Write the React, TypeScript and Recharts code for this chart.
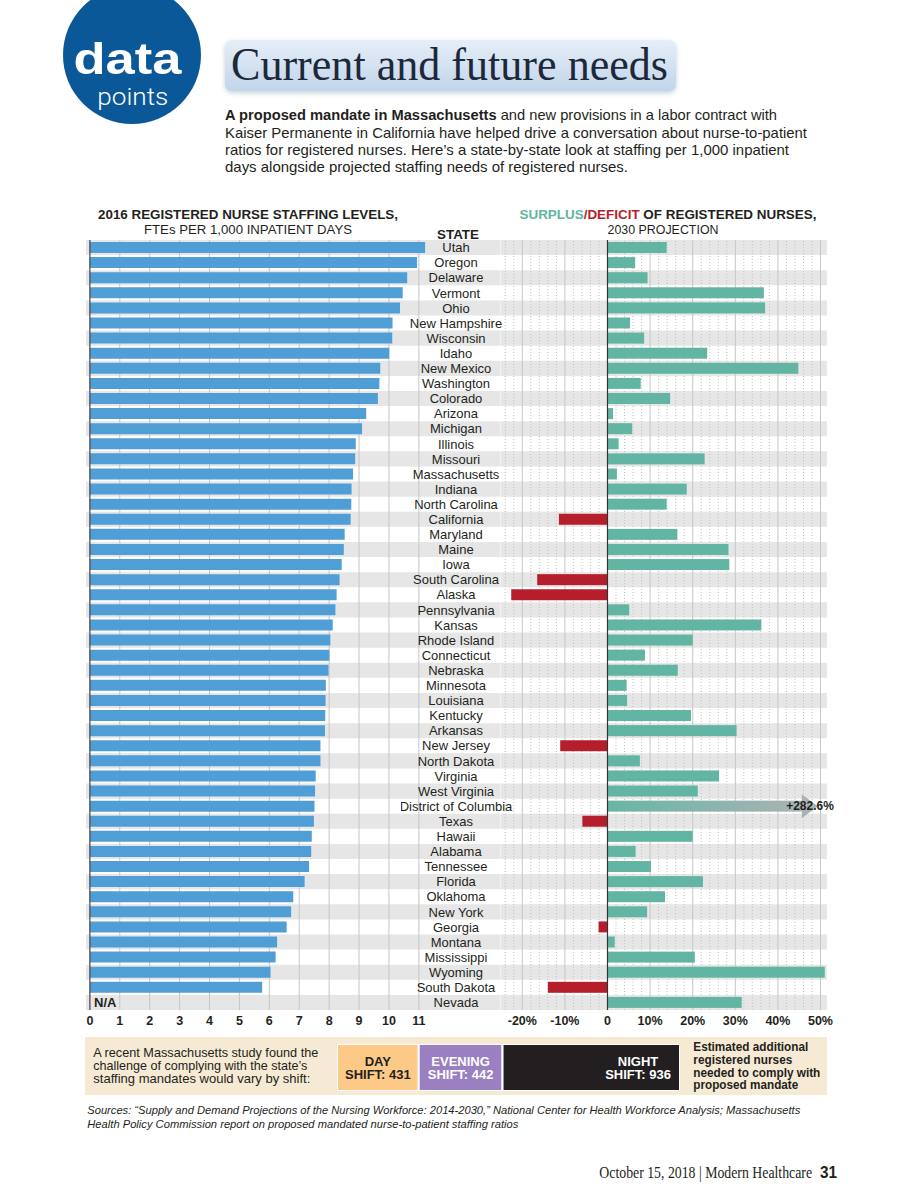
import React from 'react';
import { BarChart, Bar, XAxis, YAxis, ReferenceArea, ReferenceLine, LabelList } from 'recharts';

const FONT = "'Liberation Sans', Arial, Helvetica, sans-serif";
const SERIF = "'Liberation Serif', 'DejaVu Serif', serif";
const INK = '#231f20';
const BLUE = '#509ed6';
const TEAL = '#62b5a2';
const RED = '#b51f2b';
const STRIPE = '#e6e6e6';
const GRID = '#c6c6c6';

const states = [
  'Utah', 'Oregon', 'Delaware', 'Vermont', 'Ohio', 'New Hampshire', 'Wisconsin', 'Idaho', 'New Mexico', 'Washington',
  'Colorado', 'Arizona', 'Michigan', 'Illinois', 'Missouri', 'Massachusetts', 'Indiana', 'North Carolina', 'California', 'Maryland',
  'Maine', 'Iowa', 'South Carolina', 'Alaska', 'Pennsylvania', 'Kansas', 'Rhode Island', 'Connecticut', 'Nebraska', 'Minnesota',
  'Louisiana', 'Kentucky', 'Arkansas', 'New Jersey', 'North Dakota', 'Virginia', 'West Virginia', 'District of Columbia', 'Texas', 'Hawaii',
  'Alabama', 'Tennessee', 'Florida', 'Oklahoma', 'New York', 'Georgia', 'Montana', 'Mississippi', 'Wyoming', 'South Dakota',
  'Nevada',
];

// 2016 RN FTEs per 1,000 inpatient days (Nevada: N/A)
const staffing: (number | null)[] = [
  11.21, 10.94, 10.61, 10.46, 10.37, 10.12, 10.11, 10.01, 9.71, 9.68,
  9.63, 9.24, 9.10, 8.89, 8.87, 8.80, 8.75, 8.74, 8.72, 8.52,
  8.49, 8.42, 8.35, 8.25, 8.21, 8.12, 8.04, 8.01, 7.98, 7.89,
  7.88, 7.87, 7.86, 7.71, 7.71, 7.55, 7.53, 7.51, 7.49, 7.42,
  7.40, 7.33, 7.18, 6.80, 6.73, 6.58, 6.26, 6.21, 6.04, 5.76,
  null,
];

// 2030 projected surplus/deficit, %
const surplus = [
  13.9, 6.5, 9.4, 36.7, 37.0, 5.3, 8.6, 23.4, 44.8, 7.8,
  14.7, 1.3, 5.8, 2.6, 22.8, 2.2, 18.6, 13.9, -11.4, 16.4,
  28.4, 28.6, -16.5, -22.6, 5.1, 36.1, 20.0, 8.8, 16.5, 4.5,
  4.6, 19.6, 30.3, -11.1, 7.6, 26.2, 21.2, 282.6, -5.9, 20.0,
  6.6, 10.2, 22.4, 13.5, 9.3, -2.1, 1.7, 20.5, 51.0, -14.0,
  31.5,
];

const leftTicks = [0, 1, 2, 3, 4, 5, 6, 7, 8, 9, 10, 11];
const rightMajorTicks = [-20, -10, 0, 10, 20, 30, 40, 50];
const rightMinorTicks = [-24, -22, -18, -16, -14, -12, -8, -6, -4, -2, 2, 4, 6, 8, 12, 14, 16, 18, 22, 24, 26, 28, 32, 34, 36, 38, 42, 44, 46, 48];
const LEFT_DOMAIN: [number, number] = [-0.13, 13.73];
const RIGHT_DOMAIN: [number, number] = [-25, 55];
const RIGHT_STRIPE_END = 51.5;

const shiftNames = ['DAY', 'EVENING', 'NIGHT'];
const shiftValues = [431, 442, 936];
const shiftColors = ['#fcc986', '#9a80c1', '#231f20'];
const shiftText = [INK, '#ffffff', '#ffffff'];

const rows = states.map((s, i) => ({ state: s, staffing: staffing[i], surplus: surplus[i] }));
const stripeStates = states.filter((_, i) => i % 2 === 0);
const shiftRow: Record<string, any> = { name: 'Massachusetts' };
shiftNames.forEach((n, i) => { shiftRow[n] = shiftValues[i]; });
const shiftTotal = shiftValues.reduce((a, b) => a + b, 0);

const tickStyle = { fontSize: 12.5, fontWeight: 700, fill: INK, fontFamily: FONT };

function StateTick(props: any) {
  const { x, y, payload } = props;
  return (
    <text x={x - 45} y={y} dy="0.36em" textAnchor="middle" fontSize={13} fill={INK} fontFamily={FONT}>
      {payload.value}
    </text>
  );
}

function SurplusShape(props: any) {
  const { x, y, width, height, payload, background } = props;
  const v = payload ? payload.surplus : 0;
  const left = width < 0 ? x + width : x;
  const w = Math.abs(width);
  if (v > RIGHT_DOMAIN[1]) {
    const plotRight = background ? background.x + background.width : x + 234;
    const tip = plotRight - 24;
    const base = tip - 16;
    const cy = y + height / 2;
    return (
      <g>
        <defs>
          <linearGradient id="dcGrad" x1="0" x2="1" y1="0" y2="0">
            <stop offset="0" stopColor="#68b6a5" />
            <stop offset="1" stopColor="#a9b3b3" />
          </linearGradient>
        </defs>
        <rect x={x} y={y} width={base - x} height={height} fill="url(#dcGrad)" />
        <polygon points={`${base},${cy - 12} ${tip},${cy} ${base},${cy + 12}`} fill="#a9b3b3" />
        <text x={plotRight - 8} y={cy} dy="0.36em" textAnchor="end" fontWeight={700} fontSize={12} fill={INK} fontFamily={FONT}>
          {'+' + v.toFixed(1) + '%'}
        </text>
      </g>
    );
  }
  return <rect x={left} y={y} width={w} height={height} fill={v < 0 ? RED : TEAL} />;
}

function makeShiftLabel(i: number) {
  return (props: any) => {
    const { x, y, width, height } = props;
    const cx = i === 2 ? x + width - 42 : x + width / 2;
    const cy = y + height / 2;
    return (
      <g>
        <text x={cx} y={cy - 6.5} dy="0.36em" textAnchor="middle" fontSize={13} fontWeight={700} fill={shiftText[i]} fontFamily={FONT}>
          {shiftNames[i]}
        </text>
        <text x={cx} y={cy + 6.5} dy="0.36em" textAnchor="middle" fontSize={13} fontWeight={700} fill={shiftText[i]} fontFamily={FONT}>
          {'SHIFT: ' + shiftValues[i]}
        </text>
      </g>
    );
  };
}

function Page() {
  return (
    <svg width={900} height={1200} style={{ position: 'absolute', left: 0, top: 0 }}>
      <defs>
        <linearGradient id="titleGrad" x1="0" y1="0" x2="0" y2="1">
          <stop offset="0" stopColor="#e6eef8" />
          <stop offset="1" stopColor="#c2d5ea" />
        </linearGradient>
        <filter id="titleShadow" x="-5%" y="-20%" width="110%" height="160%">
          <feDropShadow dx="0" dy="2" stdDeviation="2.5" floodColor="#7d98b6" floodOpacity="0.45" />
        </filter>
      </defs>
      <circle cx={132} cy={55} r={69} fill="#0b5898" />
      <text x={127.5} y={74} textAnchor="middle" fontFamily={FONT} fontWeight={700} fontSize={44} fill="#ffffff" textLength={108} lengthAdjust="spacingAndGlyphs">data</text>
      <text x={132.8} y={105} textAnchor="middle" fontFamily="Roboto, 'Liberation Sans', sans-serif" fontWeight={300} fontSize={24} fill="#ffffff" textLength={71} lengthAdjust="spacingAndGlyphs">points</text>

      <rect x={225} y={40} width={451} height={51} rx={7} fill="url(#titleGrad)" filter="url(#titleShadow)" />
      <text x={231} y={80} fontFamily={SERIF} fontSize={45.5} fill="#1d293a" textLength={437} lengthAdjust="spacingAndGlyphs">Current and future needs</text>

      <g fontFamily={FONT} fontSize={14.5} fill={INK}>
        <text x={225} y={120} textLength={552} lengthAdjust="spacingAndGlyphs">
          <tspan fontWeight={700}>A proposed mandate in Massachusetts</tspan> and new provisions in a labor contract with
        </text>
        <text x={225} y={137.5} textLength={582} lengthAdjust="spacingAndGlyphs">Kaiser Permanente in California have helped drive a conversation about nurse-to-patient</text>
        <text x={225} y={154.5} textLength={564} lengthAdjust="spacingAndGlyphs">ratios for registered nurses. Here’s a state-by-state look at staffing per 1,000 inpatient</text>
        <text x={225} y={171.5} textLength={403} lengthAdjust="spacingAndGlyphs">days alongside projected staffing needs of registered nurses.</text>
      </g>

      <g fontFamily={FONT} fontSize={13} fill={INK}>
        <text x={248} y={218.5} textAnchor="middle" fontWeight={700} textLength={300} lengthAdjust="spacingAndGlyphs">2016 REGISTERED NURSE STAFFING LEVELS,</text>
        <text x={248} y={234} textAnchor="middle" textLength={208} lengthAdjust="spacingAndGlyphs">FTEs PER 1,000 INPATIENT DAYS</text>
        <text x={458} y={239} textAnchor="middle" fontWeight={700} textLength={42} lengthAdjust="spacingAndGlyphs">STATE</text>
        <text x={668} y={218.5} textAnchor="middle" fontWeight={700} textLength={297} lengthAdjust="spacingAndGlyphs">
          <tspan fill={TEAL}>SURPLUS</tspan>
          <tspan fill={RED}>/DEFICIT</tspan>
          <tspan> OF REGISTERED NURSES,</tspan>
        </text>
        <text x={663} y={234} textAnchor="middle" textLength={111} lengthAdjust="spacingAndGlyphs">2030 PROJECTION</text>
      </g>

      <rect x={85} y={1037} width={742} height={58} fill="#f6ead4" />
      <g fontFamily={FONT} fontSize={13} fill={INK}>
        <text x={93.3} y={1057} textLength={225} lengthAdjust="spacingAndGlyphs">A recent Massachusetts study found the</text>
        <text x={93.3} y={1069.8} textLength={214} lengthAdjust="spacingAndGlyphs">challenge of complying with the state’s</text>
        <text x={93.3} y={1082.8} textLength={217} lengthAdjust="spacingAndGlyphs">staffing mandates would vary by shift:</text>
      </g>
      <g fontFamily={FONT} fontSize={12.8} fontWeight={700} fill={INK}>
        <text x={693.3} y={1051} textLength={115} lengthAdjust="spacingAndGlyphs">Estimated additional</text>
        <text x={693.3} y={1063.8} textLength={99} lengthAdjust="spacingAndGlyphs">registered nurses</text>
        <text x={693.3} y={1076.6} textLength={127} lengthAdjust="spacingAndGlyphs">needed to comply with</text>
        <text x={693.3} y={1089.3} textLength={105} lengthAdjust="spacingAndGlyphs">proposed mandate</text>
      </g>
      <g fontFamily={FONT} fontSize={11} fontStyle="italic" fill={INK}>
        <text x={87.3} y={1114} textLength={713} lengthAdjust="spacingAndGlyphs">Sources: “Supply and Demand Projections of the Nursing Workforce: 2014-2030,” National Center for Health Workforce Analysis; Massachusetts</text>
        <text x={87.3} y={1127.5} textLength={431} lengthAdjust="spacingAndGlyphs">Health Policy Commission report on proposed mandated nurse-to-patient staffing ratios</text>
      </g>
      <text transform="translate(599.3,1177.5) scale(0.863,1)" x={0} y={0} fontFamily={SERIF} fontSize={16} fill={INK}>October 15, 2018 | Modern Healthcare</text>
      <text x={820} y={1178} fontFamily={FONT} fontSize={17} fontWeight={700} fill={INK} textLength={17} lengthAdjust="spacingAndGlyphs">31</text>
    </svg>
  );
}

function LeftChart() {
  return (
    <div style={{ position: 'absolute', left: 86, top: 240 }}>
      <BarChart layout="vertical" width={414.5} height={800} data={rows} margin={{ top: 0, right: 0, bottom: 0, left: 0 }} barSize={11}>
        <XAxis type="number" domain={LEFT_DOMAIN} allowDataOverflow ticks={leftTicks} interval={0} axisLine={false} tickLine={false} tickSize={4} tickMargin={2} height={30} tick={tickStyle} />
        <YAxis type="category" dataKey="state" hide />
        {stripeStates.map((s) => (
          <ReferenceArea key={s} y1={s} y2={s} fill={STRIPE} fillOpacity={1} stroke="none" zIndex={-90}
            label={s === 'Nevada' ? { value: 'N/A', position: 'insideLeft', offset: 8, fill: INK, fontWeight: 700, fontSize: 13, fontFamily: FONT } : undefined} />
        ))}
        {leftTicks.slice(1).map((t) => (
          <ReferenceLine key={'g' + t} x={t} stroke={GRID} strokeWidth={1} zIndex={-80} />
        ))}
        <Bar dataKey="staffing" fill={BLUE} isAnimationActive={false} />
        <ReferenceLine x={0} stroke="#444" strokeWidth={1.2} zIndex={400} />
      </BarChart>
    </div>
  );
}

function RightChart() {
  return (
    <div style={{ position: 'absolute', left: 400.5, top: 240 }}>
      <BarChart layout="vertical" width={440.8} height={800} data={rows} margin={{ top: 0, right: 0, bottom: 0, left: 0 }} barSize={11}>
        <XAxis type="number" domain={RIGHT_DOMAIN} allowDataOverflow ticks={rightMajorTicks} interval={0} axisLine={false} tickLine={false} tickSize={4} tickMargin={2} height={30} tick={tickStyle}
          tickFormatter={(v: number) => (v === 0 ? '0' : v + '%')} />
        <YAxis type="category" dataKey="state" width={100} interval={0} axisLine={false} tickLine={false} tickSize={0} tickMargin={0} tick={(p: any) => <StateTick {...p} />} />
        {stripeStates.map((s) => (
          <ReferenceArea key={s} y1={s} y2={s} x1={RIGHT_DOMAIN[0]} x2={RIGHT_STRIPE_END} fill={STRIPE} fillOpacity={1} stroke="none" zIndex={-90} />
        ))}
        {rightMinorTicks.map((t) => (
          <ReferenceLine key={'m' + t} x={t} stroke="#c2c2c2" strokeWidth={1} strokeDasharray="1 2" zIndex={-80} />
        ))}
        {rightMajorTicks.filter((t) => t !== 0).map((t) => (
          <ReferenceLine key={'g' + t} x={t} stroke={GRID} strokeWidth={1} zIndex={-80} />
        ))}
        <Bar dataKey="surplus" fill={TEAL} isAnimationActive={false} shape={(p: any) => <SurplusShape {...p} />} />
        <ReferenceLine x={0} stroke="#333" strokeWidth={1.2} zIndex={400} />
      </BarChart>
    </div>
  );
}

function ShiftChart() {
  return (
    <div style={{ position: 'absolute', left: 336.5, top: 1044 }}>
      <BarChart layout="vertical" width={343} height={47} data={[shiftRow]} margin={{ top: 0, right: 0, bottom: 0, left: 0 }} barCategoryGap={0}>
        <XAxis type="number" hide domain={[0, shiftTotal]} allowDataOverflow />
        <YAxis type="category" dataKey="name" hide />
        {shiftNames.map((n, i) => (
          <Bar key={n} dataKey={n} stackId="shift" fill={shiftColors[i]} stroke="#ffffff" strokeWidth={2} isAnimationActive={false}>
            <LabelList dataKey={n} content={makeShiftLabel(i)} />
          </Bar>
        ))}
      </BarChart>
    </div>
  );
}

export default function App() {
  return (
    <div style={{ position: 'absolute', left: 0, top: 0, width: 900, height: 1200, background: '#ffffff', overflow: 'hidden' }}>
      <Page />
      <LeftChart />
      <RightChart />
      <ShiftChart />
    </div>
  );
}
